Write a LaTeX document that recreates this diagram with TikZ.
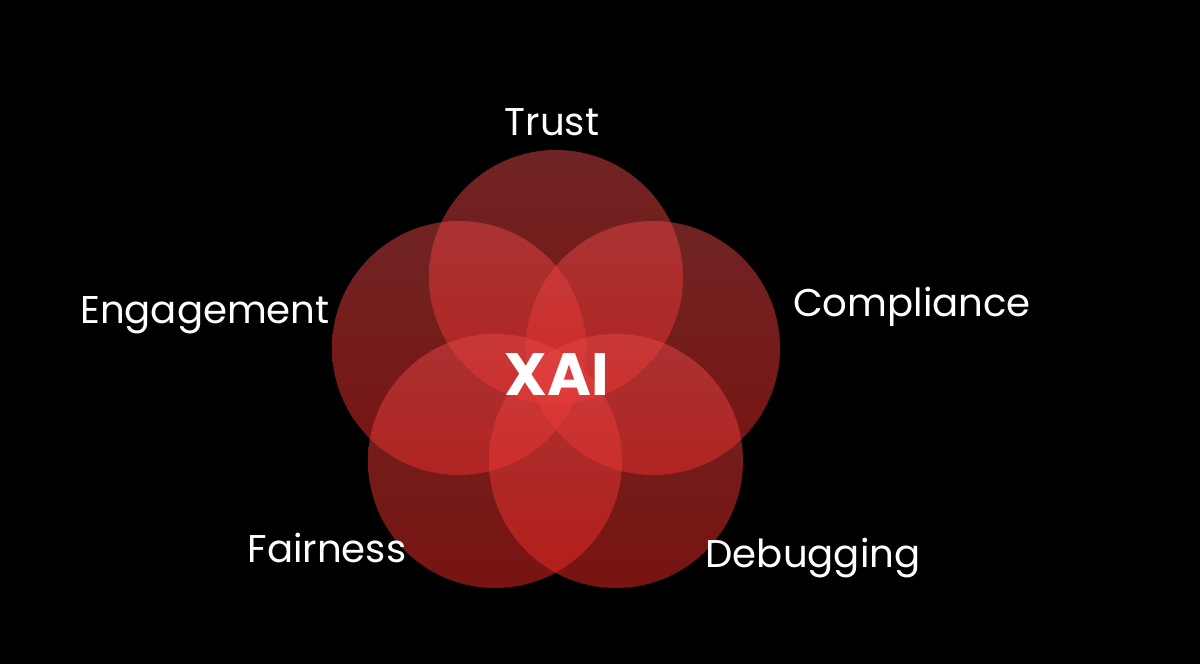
\documentclass[tikz,border=0pt]{standalone}
\usepackage{fontspec}
\setmainfont{Poppins}
\usetikzlibrary{positioning}
\definecolor{petaltop}{RGB}{225,72,72}
\definecolor{petalbot}{RGB}{240,40,35}
\tikzset{
  petal/.style={circle, minimum size=5.08cm, inner sep=0pt,
    top color=petaltop, bottom color=petalbot, fill opacity=0.5, draw=none},
  word/.style={text=white, font=\fontsize{22}{26}\selectfont}
}
\begin{document}
\begin{tikzpicture}
    % background
    \fill[black] (0,0) rectangle (24,13.28);
    % circles
    \node[petal] (trust) at (11.12,7.74) {};
    \node[petal] (engage) at (9.18,6.32) {};
    \node[petal] (comply) at (13.06,6.32) {};
    \node[petal] (fair) at (9.90,4.06) {};
    \node[petal] (debug) at (12.32,4.06) {};
    % labels
    \node[word] (ltrust) at (11.04,10.84) {Trust};
    \node[word] (lengage) at (4.10,6.98) {Engagement};
    \node[word] (lcomply) at (18.24,7.14) {Compliance};
    \node[word] (lfair) at (6.54,2.32) {Fairness};
    \node[word] (ldebug) at (16.26,2.12) {Debugging};
    \node[text=white, font=\bfseries\fontsize{34}{38}\selectfont] (xai) at (11.14,5.78) {XAI};
\end{tikzpicture}
\end{document}
